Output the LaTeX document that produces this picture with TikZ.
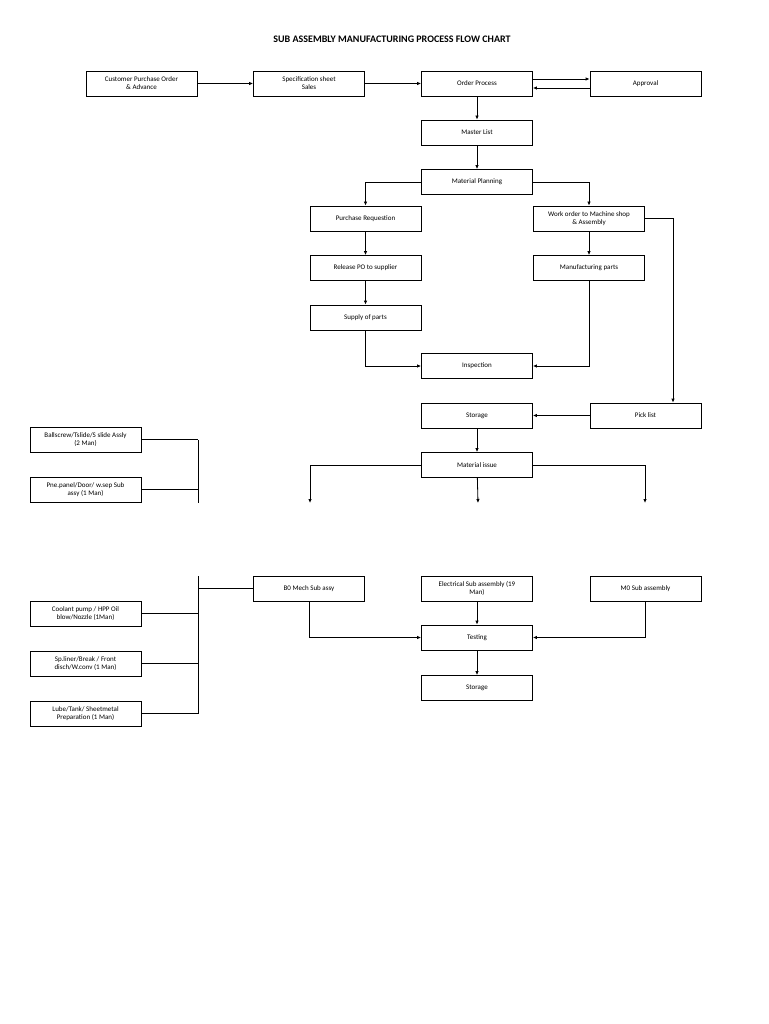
\documentclass[tikz,border=0pt]{standalone}
\usepackage{fontspec}
\setmainfont{Carlito}
\usetikzlibrary{arrows.meta}
\begin{document}
\begin{tikzpicture}[x=1pt,y=-1pt,
  bx/.style={draw,line width=0.8pt,minimum width=111pt,minimum height=25pt,inner sep=1pt,align=center,font=\fontsize{7}{8}\selectfont},
  ar/.style={-{Latex[length=4pt,width=3.5pt]},line width=0.8pt},
  ln/.style={line width=0.8pt}]
\useasboundingbox (0,0) rectangle (768,1024);
\node[font=\bfseries\fontsize{10}{12}\selectfont] (title) at (392,39) {SUB ASSEMBLY MANUFACTURING PROCESS FLOW CHART};
\node[bx] (cust) at (141.5,83.5) {Customer Purchase Order\\\& Advance};
\node[bx] (spec) at (309,83.5) {Specification sheet\\Sales};
\node[bx] (order) at (477,83.5) {Order Process};
\node[bx] (appr) at (645.5,83.5) {Approval};
\node[bx] (master) at (477,132.5) {Master List};
\node[bx] (plan) at (477,182) {Material Planning};
\node[bx] (preq) at (365.5,218.5) {Purchase Requestion};
\node[bx] (work) at (589,218.5) {Work order to Machine shop\\\& Assembly};
\node[bx] (rel) at (365.5,268) {Release PO to supplier};
\node[bx] (mfg) at (589,268) {Manufacturing parts};
\node[bx] (sup) at (365.5,317.5) {Supply of parts};
\node[bx] (insp) at (477,366) {Inspection};
\node[bx] (stor) at (477,415.5) {Storage};
\node[bx] (pick) at (645.5,415.5) {Pick list};
\node[bx] (issue) at (477,465) {Material issue};
\node[bx] (ball) at (85.5,439.5) {Ballscrew/Tslide/S slide Assly\\(2 Man)};
\node[bx] (pne) at (85.5,489.5) {Pne.panel/Door/ w.sep Sub\\assy (1 Man)};
\node[bx] (b0) at (309,588.5) {B0 Mech Sub assy};
\node[bx] (elec) at (477,588.5) {Electrical Sub assembly (19\\Man)};
\node[bx] (m0) at (645.5,588.5) {M0 Sub assembly};
\node[bx] (cool) at (85.5,613.5) {Coolant pump / HPP Oil\\blow/Nozzle (1Man)};
\node[bx] (spl) at (85.5,663.5) {Sp.liner/Break / Front\\disch/W.conv (1 Man)};
\node[bx] (lube) at (85.5,713.5) {Lube/Tank/ Sheetmetal\\Preparation (1 Man)};
\node[bx] (test) at (477,637.5) {Testing};
\node[bx] (stor2) at (477,688) {Storage};
\coordinate (dl) at (310,503);
\coordinate (dm) at (478,503);
\coordinate (dr) at (645,503);
\draw[ar] (cust) -- (spec);
\draw[ar] (spec) -- (order);
\draw[ar] (order.east|-0,79) -- (appr.west|-0,79);
\draw[ar] (appr.west|-0,88) -- (order.east|-0,88);
\draw[ar] (order) -- (master);
\draw[ar] (master) -- (plan);
\draw[ar] (plan.west) -| (preq.north);
\draw[ar] (plan.east) -| (work.north);
\draw[ar] (preq) -- (rel);
\draw[ar] (rel) -- (sup);
\draw[ar] (work) -- (mfg);
\draw[ar] (work.east) -| (pick.north-|673,0);
\draw[ar] (sup.south) |- (insp.west);
\draw[ar] (mfg.south) |- (insp.east);
\draw[ar] (pick) -- (stor);
\draw[ar] (stor) -- (issue);
\draw[ar] (issue.west) -| (dl);
\draw[ar] (issue.east) -| (dr);
\draw[ar] (issue) -- (dm);
\draw[ln] (198,440) -- (198,503);
\draw[ln] (ball.east) -- (198,439.5);
\draw[ln] (pne.east) -- (198,489.5);
\draw[ln] (198,576) -- (198,714);
\draw[ln] (b0.west) -- (198,588.5);
\draw[ln] (cool.east) -- (198,613.5);
\draw[ln] (spl.east) -- (198,663.5);
\draw[ln] (lube.east) -- (198,713.5);
\draw[ar] (b0.south) |- (test.west);
\draw[ar] (m0.south) |- (test.east);
\draw[ar] (elec) -- (test);
\draw[ar] (test) -- (stor2);
\end{tikzpicture}
\end{document}
